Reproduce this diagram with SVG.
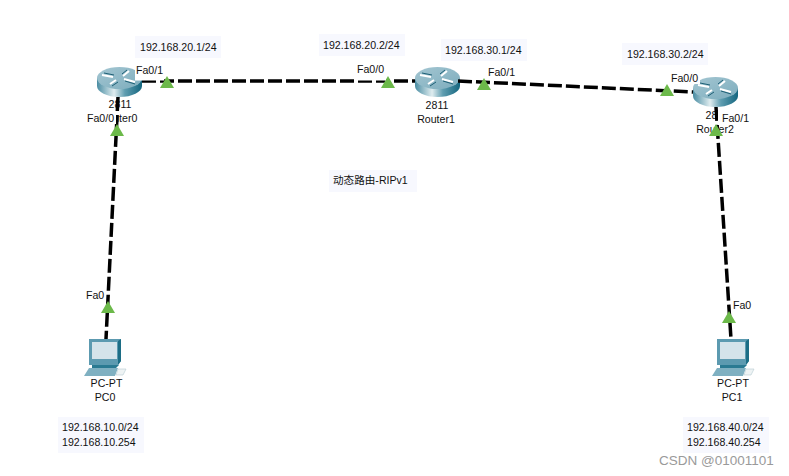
<svg xmlns="http://www.w3.org/2000/svg" width="789" height="476" viewBox="0 0 789 476">
<style>
text{font-family:"Liberation Sans",Arial,"Noto Sans CJK SC",sans-serif;font-size:10.6px;fill:#111}
.c{text-anchor:middle}
.box{fill:#f7f8fe}
.lab{fill:#fff}
.link{stroke:#000;stroke-width:3.5;fill:none;stroke-dasharray:14 4}
.tri{fill:#6cb94a}
</style>
<defs>
<linearGradient id="rg" x1="0" x2="1" y1="0" y2="0">
<stop offset="0" stop-color="#4a8da3"/><stop offset=".38" stop-color="#dfecef"/><stop offset=".62" stop-color="#5f9db0"/><stop offset="1" stop-color="#14667f"/>
</linearGradient>
<linearGradient id="rt" x1="0" x2="1" y1="0" y2="1">
<stop offset="0" stop-color="#a4c6d2"/><stop offset="1" stop-color="#7dadbd"/>
</linearGradient>
<symbol id="router" width="45" height="30" viewBox="0 0 45 30" overflow="visible">
<path d="M0 11V19C0 25 10 30 22.500 30S45 25 45 19V11Z" fill="url(#rg)"/>
<ellipse cx="22.500" cy="11" rx="22.500" ry="11" fill="url(#rt)"/>
<path d="M5 8l11 2M13 17l6-4M26 9l6-5M27 12l11 3" stroke="#fff" stroke-width="2" fill="none"/>
<path d="M7 6l10 2M15 19l6-4M25 7l5-4M28 14l10 3" stroke="#1d5f75" stroke-width="1" fill="none"/>
</symbol>
<symbol id="pc" width="45" height="37" viewBox="0 0 45 37" overflow="visible">
<path d="M6 0H38V22L35 26H6Z" fill="#5c9ab0"/>
<path d="M35 2L38 0V22L35 26Z" fill="#1c6d85"/>
<path d="M9 3H34V20H9Z" fill="#d4e3ea"/>
<path d="M9 26H36L33 29H9Z" fill="#2a7a92"/>
<path d="M6 29H35L32 37H1Z" fill="#7fb0c1"/>
<path d="M35 30H43L40 36H33Z" fill="#eef3f4" stroke="#b5cbd2" stroke-width=".6"/>
</symbol>
</defs>
<rect width="789" height="476" fill="#fff"/>
<g id="router0"><use href="#router" x="97" y="67"/><text class="c" x="120" y="108">2811</text><text class="c" x="118.500" y="122">Router0</text></g>
<g id="router1"><use href="#router" x="415" y="67"/><text class="c" x="437" y="109">2811</text><text class="c" x="436" y="122.500">Router1</text></g>
<g id="router2"><use href="#router" x="693" y="77"/><text class="c" x="717" y="119">2811</text><text class="c" x="715" y="132.500">Router2</text></g>
<g id="pc0"><use href="#pc" x="83" y="339"/><text class="c" x="106.500" y="387">PC-PT</text><text class="c" x="105" y="401">PC0</text></g>
<g id="pc1"><use href="#pc" x="711" y="339"/><text class="c" x="733" y="387">PC-PT</text><text class="c" x="732" y="401">PC1</text></g>
<g id="connectors">
<path class="link" d="M142 81H415"/>
<path class="link" d="M458 81L693 92"/>
<path class="link" d="M118 97L106 339"/>
<path class="link" d="M716 107L731 339"/>
<path class="tri" d="M160 88L167 76L174 88Z"/>
<path class="tri" d="M381 88L388 76L395 88Z"/>
<path class="tri" d="M477 90L484 78L491 90Z"/>
<path class="tri" d="M660 96L667 84L674 96Z"/>
<path class="tri" d="M110 136L117 124L124 136Z"/>
<path class="tri" d="M101 313L108 301L115 313Z"/>
<path class="tri" d="M709 136L716 124L723 136Z"/>
<path class="tri" d="M722 323L729 311L736 323Z"/>
</g>
<g id="port-labels">
<rect class="lab" x="135" y="64" width="29" height="16.500"/><text x="136" y="73.500">Fa0/1</text>
<rect class="lab" x="86" y="112" width="30" height="12"/><text x="87" y="122">Fa0/0</text>
<rect class="lab" x="356" y="64" width="30" height="16.500"/><text x="357" y="73">Fa0/0</text>
<rect class="lab" x="487" y="67" width="30" height="13"/><text x="488" y="76">Fa0/1</text>
<rect class="lab" x="670" y="72" width="30" height="12"/><text x="671" y="82">Fa0/0</text>
<rect class="lab" x="718" y="110" width="33" height="15"/><text x="722" y="122">Fa0/1</text>
<rect class="lab" x="85" y="289" width="20" height="13"/><text x="86" y="299">Fa0</text>
<rect class="lab" x="732" y="298" width="20" height="13"/><text x="733" y="309">Fa0</text>
</g>
<g id="notes">
<rect class="box" x="135" y="36" width="86" height="22"/><text x="140" y="51">192.168.20.1/24</text>
<rect class="box" x="319" y="34" width="86" height="22"/><text x="323" y="49">192.168.20.2/24</text>
<rect class="box" x="441" y="39" width="86" height="22"/><text x="445" y="54">192.168.30.1/24</text>
<rect class="box" x="622" y="43" width="86" height="22"/><text x="627" y="58">192.168.30.2/24</text>
<rect class="box" x="329" y="170" width="88" height="22"/><text x="333" y="184">动态路由-RIPv1</text>
<rect class="box" x="58" y="417" width="86" height="36"/><text x="62" y="431">192.168.10.0/24</text><text x="62" y="446">192.168.10.254</text>
<rect class="box" x="683" y="417" width="86" height="36"/><text x="687" y="431">192.168.40.0/24</text><text x="687" y="446">192.168.40.254</text>
<text x="659" y="465" style="font-size:13.500px;fill:#9a9a9a">CSDN @01001101</text>
</g>
</svg>
